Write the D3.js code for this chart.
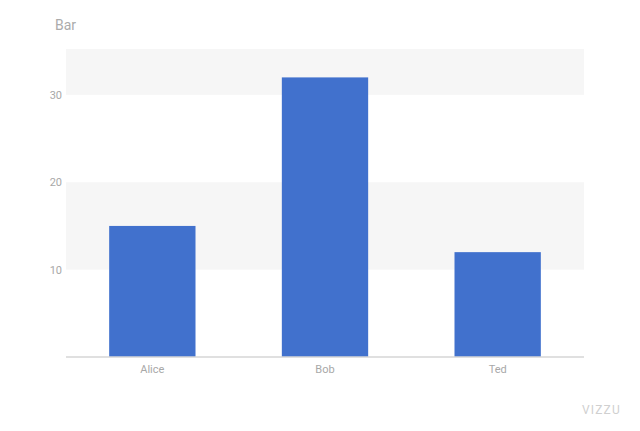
<!DOCTYPE html>
<html lang="en">
<head>
  <meta charset="UTF-8">
  <title>Bar</title>
  <style>
    body { margin: 0; background: #fff; font-family: Roboto, Arial, sans-serif; }
    svg { display: block; }
  </style>
</head>
<body>
<svg width="640" height="431"></svg>

<script src="https://d3js.org/d3.v7.min.js"></script>
<script>
  const names = ["Alice", "Bob", "Ted"];
  const values = [15, 32, 12];
  const yTicks = [10, 20, 30];

  const svg = d3.select("svg");
  const margin = { left: 66, right: 56, top: 49, bottom: 74 };
  const W = 640, H = 431;

  const x = d3.scaleBand()
    .domain(names)
    .range([margin.left, W - margin.right])
    .paddingInner(0.5)
    .paddingOuter(0.25);

  const y = d3.scaleLinear()
    .domain([0, 35.25])
    .range([H - margin.bottom, margin.top]);

  // alternating grey bands
  const bands = [[10, 20], [30, 35.25]];
  svg.selectAll(".band")
    .data(bands)
    .enter()
    .append("rect")
    .attr("x", margin.left)
    .attr("width", W - margin.left - margin.right)
    .attr("y", d => y(d[1]))
    .attr("height", d => y(d[0]) - y(d[1]))
    .attr("fill", "#f6f6f6");

  // bars
  svg.selectAll(".bar")
    .data(names)
    .enter()
    .append("rect")
    .attr("x", d => x(d))
    .attr("width", x.bandwidth())
    .attr("y", (d, i) => y(values[i]))
    .attr("height", (d, i) => y(0) - y(values[i]))
    .attr("fill", "#4171cd");

  // baseline
  svg.append("line")
    .attr("x1", margin.left)
    .attr("x2", W - margin.right)
    .attr("y1", y(0))
    .attr("y2", y(0))
    .attr("stroke", "#d6d6d6")
    .attr("stroke-width", 1.5);

  // y tick labels
  svg.selectAll(".ytick")
    .data(yTicks)
    .enter()
    .append("text")
    .attr("x", margin.left - 4)
    .attr("y", d => y(d) + 4)
    .attr("text-anchor", "end")
    .attr("fill", "#a8a8a8")
    .attr("font-size", "11px")
    .text(d => d);

  // x labels
  svg.selectAll(".xtick")
    .data(names)
    .enter()
    .append("text")
    .attr("x", d => x(d) + x.bandwidth() / 2)
    .attr("y", y(0) + 16)
    .attr("text-anchor", "middle")
    .attr("fill", "#a8a8a8")
    .attr("font-size", "11px")
    .text(d => d);

  // title
  svg.append("text")
    .attr("x", 55)
    .attr("y", 30)
    .attr("fill", "#ababab")
    .attr("font-size", "14px")
    .text("Bar");

  // logo
  svg.append("text")
    .attr("x", 621)
    .attr("y", 414)
    .attr("text-anchor", "end")
    .attr("fill", "#d0d0d0")
    .attr("font-size", "12px")
    .attr("letter-spacing", "1.2px")
    .text("VIZZU");
</script>
</body>
</html>
